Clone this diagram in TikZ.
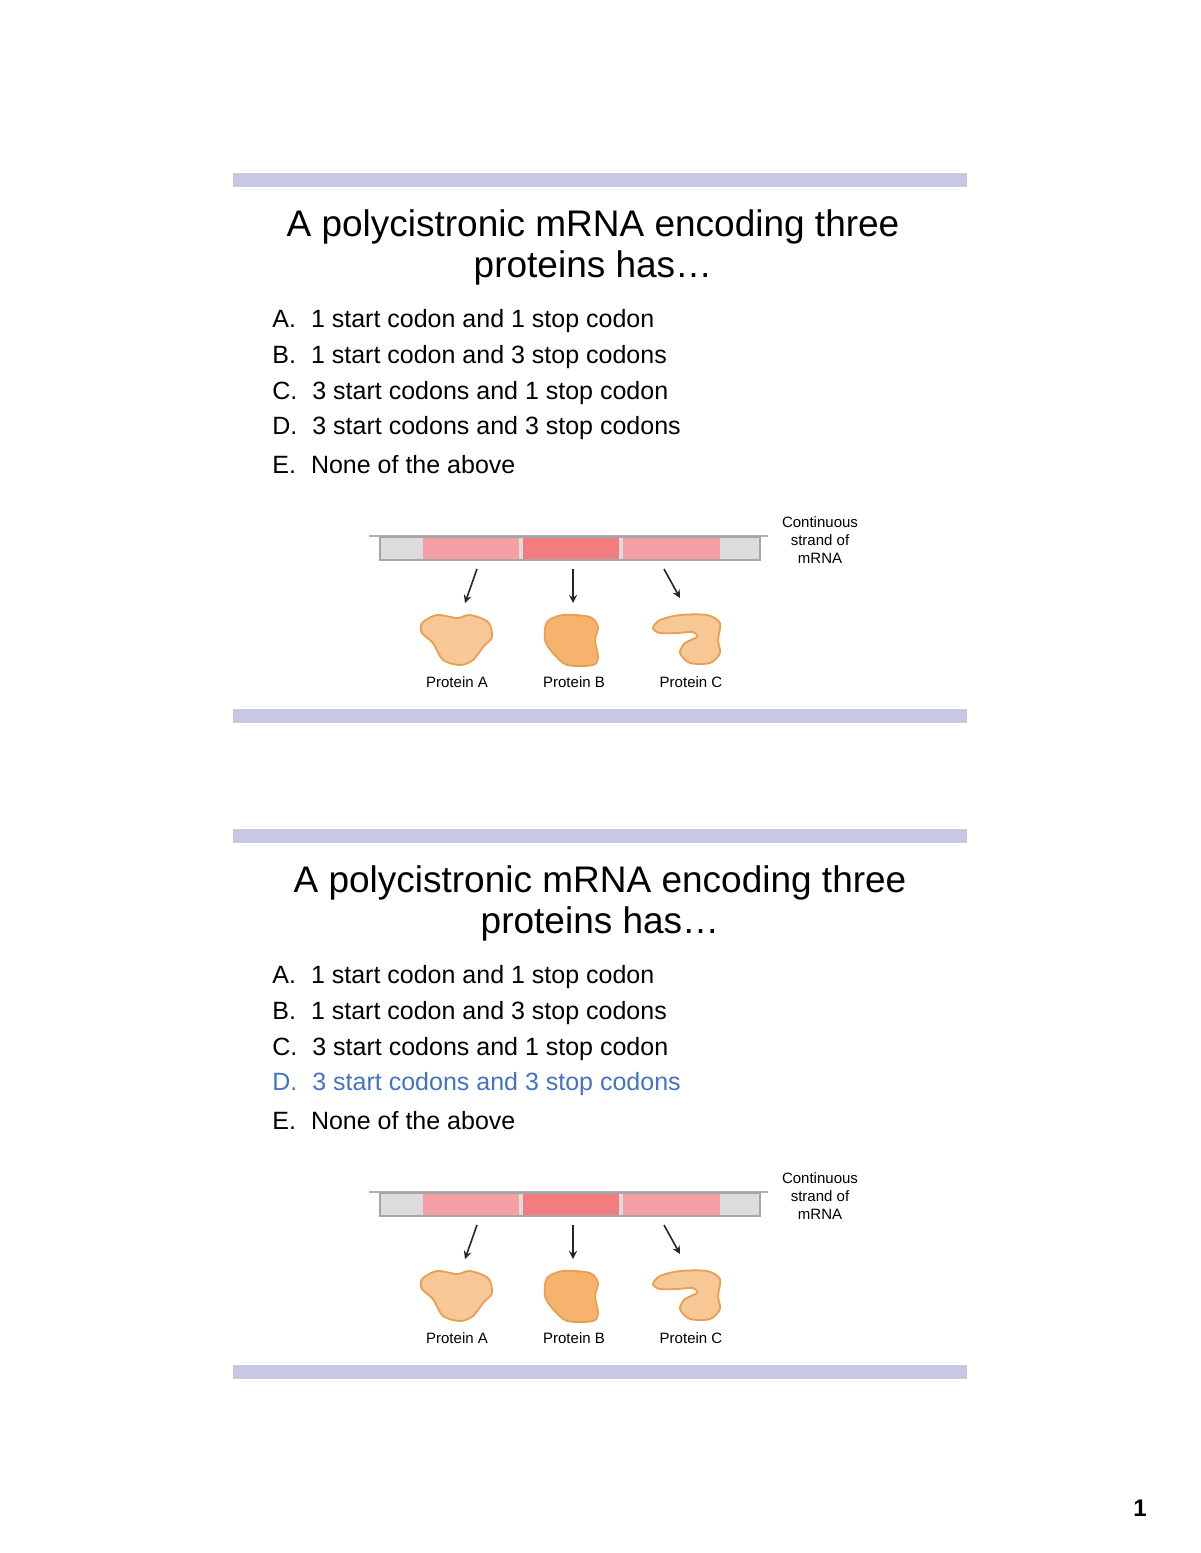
\documentclass[tikz,border=0pt]{standalone}
\usepackage{fontspec}
\setmainfont{Liberation Sans}
\usetikzlibrary{positioning}
\definecolor{barcol}{HTML}{C8C8E2}
\definecolor{ansblue}{HTML}{4472C4}
\definecolor{pinkA}{HTML}{F4A0A4}
\definecolor{redB}{HTML}{F27C80}
\definecolor{greyseg}{HTML}{DCDCDC}
\definecolor{protfill}{HTML}{F7C796}
\definecolor{protfillB}{HTML}{F5B36E}
\definecolor{protline}{HTML}{E8A050}
\tikzset{
  bar/.style={fill=barcol,draw=none},
  seg/.style={draw=gray!70,line width=0.8pt},
  opt/.style={anchor=west,inner sep=0pt,font=\fontsize{12.5}{14}\selectfont},
  ttl/.style={inner sep=0pt,font=\fontsize{18.5}{22}\selectfont},
  lbl/.style={inner sep=0pt,font=\fontsize{7.5}{9}\selectfont},
  prot/.style={draw=protline,line width=0.9pt,fill=protfill},
  arr/.style={->,>=stealth,thick,gray!30!black}
}
% one slide; #1 = vertical shift, #2 = colour of answer D, #3 = title centre x
\newcommand\pslide[3]{%
\begin{scope}[yshift=#1]
\fill[bar] (233,173) rectangle (967,187);
\fill[bar] (233,709) rectangle (967,723);
\node[ttl] (t1) at (#3,227) {A polycistronic mRNA encoding three};
\node[ttl] (t2) at (#3,268) {proteins has\ldots};
\node[opt] (oa) at (272,321) {A.\hspace{0.6em}1 start codon and 1 stop codon};
\node[opt] (ob) at (272,357) {B.\hspace{0.6em}1 start codon and 3 stop codons};
\node[opt] (oc) at (272,393) {C.\hspace{0.6em}3 start codons and 1 stop codon};
\node[opt,text=#2] (od) at (272,428) {D.\hspace{0.6em}3 start codons and 3 stop codons};
\node[opt] (oe) at (272,465) {E.\hspace{0.6em}None of the above};
% mRNA strand
\draw[gray!60,line width=0.8pt] (369,536) -- (768,536);
\draw[seg,fill=greyseg] (380,537) rectangle (760,560);
\fill[pinkA] (423,538) rectangle (519,559);
\fill[redB] (523,538) rectangle (619,559);
\fill[pinkA] (623,538) rectangle (720,559);
\node[lbl,align=center] (cs) at (820,540) {Continuous\\strand of\\mRNA};
% arrows
\coordinate (a1) at (477,569); \coordinate (a2) at (465,603);
\coordinate (b1) at (573,569); \coordinate (b2) at (573,603);
\coordinate (c1) at (664,569); \coordinate (c2) at (680,598);
\draw[arr] (a1) -- (a2);
\draw[arr] (b1) -- (b2);
\draw[arr] (c1) -- (c2);
% proteins
\draw[prot] plot[smooth cycle] coordinates {(422,623) (437,615) (457,618) (470,615) (488,622) (492,637) (483,647) (473,660) (460,665) (443,660) (433,643) (422,633)};
\draw[prot,fill=protfillB] plot[smooth cycle] coordinates {(547,622) (563,615) (590,617) (598,627) (595,640) (598,657) (593,665) (567,665) (553,653) (545,640)};
\draw[prot] plot[smooth cycle] coordinates {(653,628) (660,620) (680,615) (707,615) (720,623) (718,640) (720,653) (710,663) (690,663) (680,653) (685,643) (697,637) (693,632) (677,633) (660,633)};
\node[lbl] (pa) at (457,682) {Protein A};
\node[lbl] (pb) at (574,682) {Protein B};
\node[lbl] (pc) at (691,682) {Protein C};
\end{scope}}
\begin{document}
\begin{tikzpicture}[x=0.5pt,y=-0.5pt]
\useasboundingbox (0,0) rectangle (1200,1553);
\pslide{0pt}{black}{593}
\pslide{-328pt}{ansblue}{600}
\node[font=\bfseries\fontsize{12}{14}\selectfont] (pg) at (1140,1508) {1};
\end{tikzpicture}
\end{document}
